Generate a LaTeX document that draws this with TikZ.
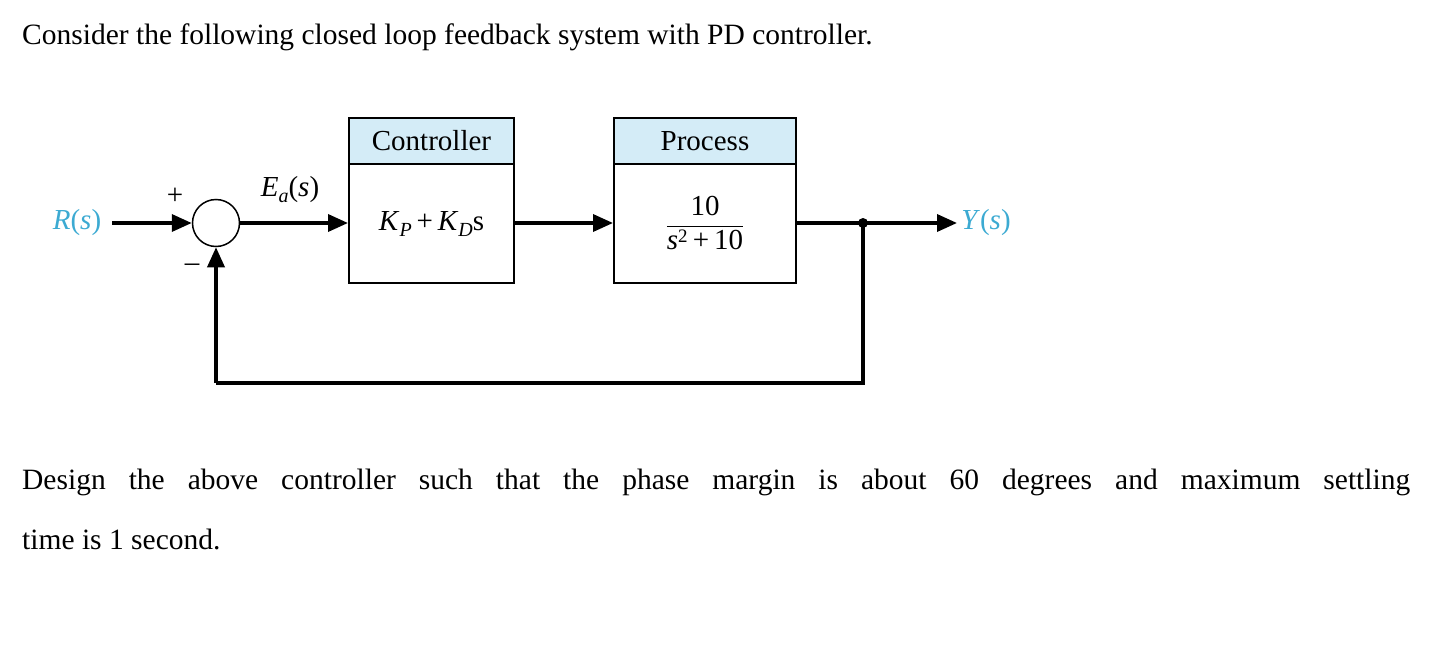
\documentclass[tikz,border=0pt]{standalone}
\usepackage{fontspec}
\setmainfont{Liberation Serif}
\usetikzlibrary{arrows.meta}
\definecolor{hdr}{RGB}{212,236,247}
\definecolor{sig}{RGB}{60,170,210}
\newcommand{\ti}[1]{\mbox{\textit{#1}}}
\newcommand{\tr}[1]{\mbox{#1}}
\newcommand{\sub}[1]{\raisebox{-6pt}{\fontsize{20}{22}\selectfont\textit{#1}}}
\begin{document}
\begin{tikzpicture}[x=1pt,y=-1pt,
  txt/.style={font=\fontsize{29.5}{34}\selectfont, anchor=base west, inner sep=0},
  lbl/.style={font=\fontsize{29}{34}\selectfont, inner sep=0},
  blk/.style={draw, line width=2pt},
  wire/.style={line width=3.5pt},
  arr/.style={wire, -{Triangle[length=20pt,width=17pt]}}]
\useasboundingbox (0,0) rectangle (1441,648);
\node[txt] (t1) at (22,44) {Consider the following closed loop feedback system with PD controller.};
\node[txt] (t2) at (22,489) {\makebox[1388pt][s]{Design the above controller such that the phase margin is about 60 degrees and maximum settling}};
\node[txt] (t3) at (22,549) {time is 1 second.};
% controller
\node[blk, fill=hdr, minimum width=165pt, minimum height=46pt, anchor=north west, lbl] (ch) at (348,117) {Controller};
\node[blk, minimum width=165pt, minimum height=119pt, anchor=north west] (cb) at (348,163) {};
\node[lbl, anchor=center] (cbt) at ([yshift=-1pt]cb.center |- 0,223) {\ti{K}\sub{P}\,+\,\ti{K}\sub{D}s};
% process
\node[blk, fill=hdr, minimum width=182pt, minimum height=46pt, anchor=north west, lbl] (ph) at (613,117) {Process};
\node[blk, minimum width=182pt, minimum height=119pt, anchor=north west] (pb) at (613,163) {};
\node[lbl] (pbt) at (pb.center |- 0,223) {$\displaystyle\frac{\tr{10}}{\ti{s}^{\tr{\fontsize{19}{20}\selectfont 2}}\tr{\,+\,10}}$};
% sum
\node[draw, circle, line width=1.5pt, minimum size=47pt, inner sep=0] (sum) at (216,223) {};
\node[lbl, text=sig] (R) at (77,223) {\ti{R}(\ti{s})};
\node[lbl, text=sig] (Y) at (986,223) {\ti{Y}(\ti{s})};
\coordinate (rs) at (112,223);
\coordinate (br) at (863,223);
\coordinate (ye) at (957,223);
\coordinate (fb) at (863,383);
\coordinate (fl) at (216,383);
\draw[arr] (rs) -- (sum.west);
\draw[arr] (sum.east) -- (cb.west |- sum.east);
\draw[arr] (cb.east |- sum.east) -- (pb.west |- sum.east);
\draw[arr] (pb.east |- sum.east) -- (ye);
\draw[wire] (br) -- (fb) -- (fl);
\draw[arr] (fl) -- (sum.south);
\fill (br) circle (5pt);
\node[lbl] (plus) at (175,196) {+};
\node[lbl] (minus) at (192,268) {\textendash};
\node[lbl] (Ea) at (290,190) {\ti{E}\sub{a}(\ti{s})};
\end{tikzpicture}
\end{document}
